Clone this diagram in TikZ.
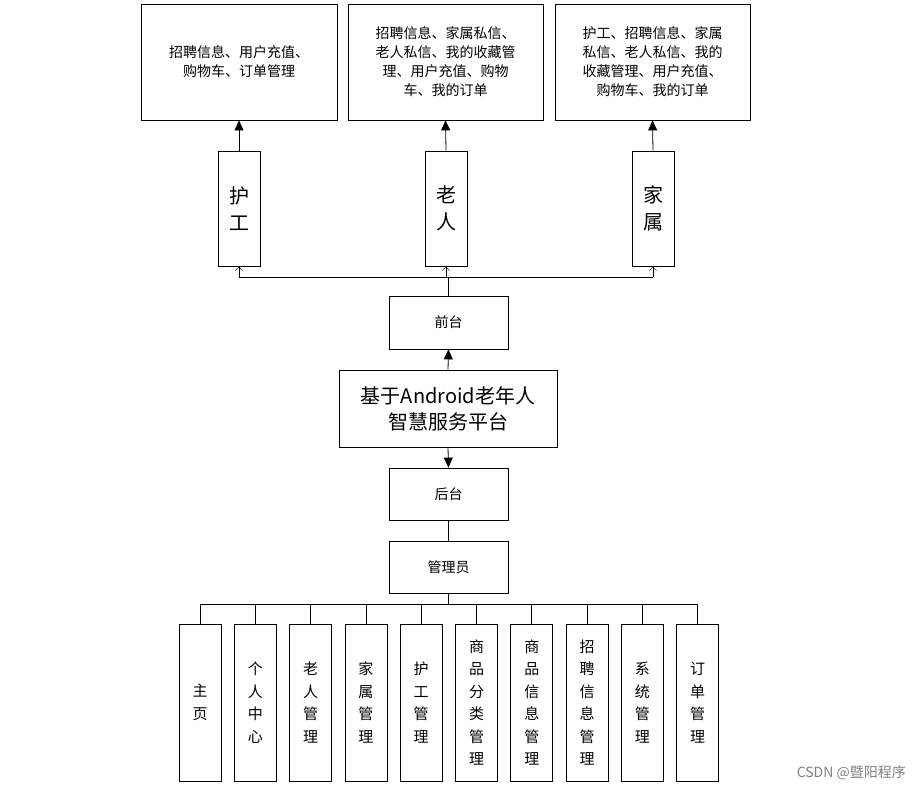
\documentclass[tikz,border=0pt]{standalone}
\usepackage{fontspec}
\setmainfont{Noto Sans CJK SC}
\usetikzlibrary{arrows.meta}
\begin{document}
\begin{tikzpicture}[x=1pt,y=-1pt,
  bx/.style={draw,thick,fill=white,inner sep=0,align=center},
  fa/.style={-{Triangle[length=10pt,width=9pt]},thick},
  oa/.style={-{Straight Barb[length=4pt,width=7pt]},thin},
  ln/.style={thick},
  fs/.style={font=\fontsize{14}{19}\selectfont},
  fb/.style={font=\fontsize{20}{27}\selectfont},
  fm/.style={font=\fontsize{15}{22.5}\selectfont}]
\useasboundingbox (0,0) rectangle (921,792);
\newcommand\mybox[6][]{\node[bx,minimum width=#4-#2 pt,minimum height=#5-#3 pt,#1] (#6) at ({(#2+#4)/2},{(#3+#5)/2})}
\mybox[fs]{141}{4}{337}{120}{t1} {招聘信息、用户充值、\\购物车、订单管理};
\mybox[fs]{348}{4}{543}{120}{t2} {招聘信息、家属私信、\\老人私信、我的收藏管\\理、用户充值、购物\\车、我的订单};
\mybox[fs]{555}{4}{750}{120}{t3} {护工、招聘信息、家属\\私信、老人私信、我的\\收藏管理、用户充值、\\购物车、我的订单};
\mybox[fb]{218}{151}{260}{266}{r1} {护\\工};
\mybox[fb]{425}{151}{467}{266}{r2} {老\\人};
\mybox[fb]{632}{151}{674}{266}{r3} {家\\属};
\mybox[fs]{389}{296}{508}{349}{qt} {前台};
\mybox[font=\fontsize{20}{26}\selectfont]{339}{370}{557}{447}{main} {基于Android老年人\\智慧服务平台};
\mybox[fs]{389}{468}{508}{520}{ht} {后台};
\mybox[fs]{389}{541}{508}{593}{gly} {管理员};
\foreach \t [count=\i from 0] in {主\\页,个\\人\\中\\心,老\\人\\管\\理,家\\属\\管\\理,护\\工\\管\\理,商\\品\\分\\类\\管\\理,商\\品\\信\\息\\管\\理,招\\聘\\信\\息\\管\\理,系\\统\\管\\理,订\\单\\管\\理}{
  \pgfmathsetmacro\xa{179+55.3*\i}
  \node[bx,fm,minimum width=42pt,minimum height=157pt] (c\i) at (\xa+21,702.5) {\t};
  \draw[ln] (c\i.north) -- (c\i.north|-0,604);
}
\foreach \i in {1,2,3}{\draw[fa] (r\i.north) -- (t\i.south);}
\coordinate (bus) at (qt.north|-0,277);
\draw[ln] (qt.north) -- (bus);
\draw[thin] (r1.south|-bus) -- (r3.south|-bus);
\foreach \i in {1,2,3}{\draw[oa] (r\i.south|-bus) -- (r\i.south);}
\draw[fa] (main.north) -- (qt.south);
\draw[fa] (main.south) -- (ht.north);
\draw[ln] (ht.south) -- (gly.north);
\draw[ln] (gly.south) -- (gly.south|-0,604);
\draw[ln] (c0.north|-0,604) -- (c9.north|-0,604);
\node[anchor=east,text=gray,inner sep=0,font=\fontsize{14}{16}\selectfont] (wm) at (906,773) {CSDN @暨阳程序};
\end{tikzpicture}
\end{document}
